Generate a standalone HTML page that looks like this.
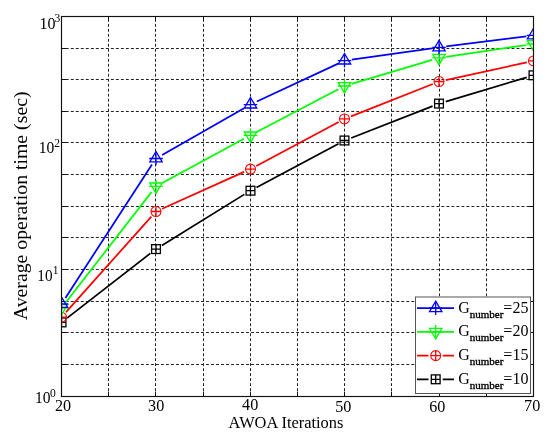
<!DOCTYPE html>
<html><head><meta charset="utf-8"><style>html,body{margin:0;padding:0;background:#fff;}svg{display:block;}</style></head>
<body><svg width="550" height="440" viewBox="0 0 550 440">
<rect x="0" y="0" width="550" height="440" fill="#fff"/>
<path d="M61.5 364.5H533.5 M61.5 332.5H533.5 M61.5 301.5H533.5 M61.5 269.5H533.5 M61.5 237.5H533.5 M61.5 206.5H533.5 M61.5 174.5H533.5 M61.5 142.5H533.5 M61.5 111.5H533.5 M61.5 79.5H533.5 M61.5 48.5H533.5" stroke="#222" stroke-width="1" stroke-dasharray="2.9 2.108" stroke-dashoffset="0.7" fill="none"/>
<path d="M108.5 16.5V396.0 M155.5 16.5V396.0 M203.5 16.5V396.0 M250.5 16.5V396.0 M297.5 16.5V396.0 M344.5 16.5V396.0 M391.5 16.5V396.0 M439.5 16.5V396.0 M486.5 16.5V396.0" stroke="#222" stroke-width="1" stroke-dasharray="2.9 2.09" stroke-dashoffset="2.6" fill="none"/>
<path d="M61.5 396.5h4.9M533.5 396.5h-4.9M61.5 364.5h4.9M533.5 364.5h-4.9M61.5 332.5h4.9M533.5 332.5h-4.9M61.5 301.5h4.9M533.5 301.5h-4.9M61.5 269.5h4.9M533.5 269.5h-4.9M61.5 237.5h4.9M533.5 237.5h-4.9M61.5 206.5h4.9M533.5 206.5h-4.9M61.5 174.5h4.9M533.5 174.5h-4.9M61.5 142.5h4.9M533.5 142.5h-4.9M61.5 111.5h4.9M533.5 111.5h-4.9M61.5 79.5h4.9M533.5 79.5h-4.9M61.5 48.5h4.9M533.5 48.5h-4.9M61.5 16.5h4.9M533.5 16.5h-4.9M61.5 396.5v-4.9M61.5 16.5v4.9M108.5 396.5v-4.9M108.5 16.5v4.9M155.5 396.5v-4.9M155.5 16.5v4.9M203.5 396.5v-4.9M203.5 16.5v4.9M250.5 396.5v-4.9M250.5 16.5v4.9M297.5 396.5v-4.9M297.5 16.5v4.9M344.5 396.5v-4.9M344.5 16.5v4.9M391.5 396.5v-4.9M391.5 16.5v4.9M439.5 396.5v-4.9M439.5 16.5v4.9M486.5 396.5v-4.9M486.5 16.5v4.9M533.5 396.5v-4.9M533.5 16.5v4.9" stroke="#111" stroke-width="1" fill="none"/>
<defs><clipPath id="c"><rect x="61" y="16" width="473" height="380.5"/></clipPath></defs>
<g clip-path="url(#c)">
<path d="M67.03 318.11L150.37 253.39M161.85 245.42L244.35 194.38M256.48 187.41L338.52 143.79M351.22 137.95L432.58 106.15M445.81 101.59L526.79 77.31" stroke="#000000" stroke-width="1.75" fill="none" stroke-linecap="butt"/>
<rect x="57.1" y="318.0" width="8.8" height="8.8" fill="none" stroke="#000000" stroke-width="1.3"/><path d="M57.1 322.4H65.9M61.5 318.0V326.79999999999995" stroke="#000000" stroke-width="1.3" fill="none"/>
<rect x="151.6" y="244.7" width="8.8" height="8.8" fill="none" stroke="#000000" stroke-width="1.3"/><path d="M151.6 249.1H160.4M156.0 244.7V253.5" stroke="#000000" stroke-width="1.3" fill="none"/>
<rect x="246.1" y="186.29999999999998" width="8.8" height="8.8" fill="none" stroke="#000000" stroke-width="1.3"/><path d="M246.1 190.7H254.9M250.5 186.29999999999998V195.1" stroke="#000000" stroke-width="1.3" fill="none"/>
<rect x="340.1" y="136.1" width="8.8" height="8.8" fill="none" stroke="#000000" stroke-width="1.3"/><path d="M340.1 140.5H348.9M344.5 136.1V144.9" stroke="#000000" stroke-width="1.3" fill="none"/>
<rect x="434.6" y="99.19999999999999" width="8.8" height="8.8" fill="none" stroke="#000000" stroke-width="1.3"/><path d="M434.6 103.6H443.4M439.0 99.19999999999999V108.0" stroke="#000000" stroke-width="1.3" fill="none"/>
<rect x="529.1" y="70.89999999999999" width="8.8" height="8.8" fill="none" stroke="#000000" stroke-width="1.3"/><path d="M529.1 75.3H537.9M533.5 70.89999999999999V79.7" stroke="#000000" stroke-width="1.3" fill="none"/>
<path d="M66.03 312.13L151.37 216.57M162.10 208.71L244.10 171.89M256.30 165.91L338.70 122.09M351.02 116.40L432.78 84.00M445.74 80.05L526.86 62.35" stroke="#ff0000" stroke-width="1.75" fill="none" stroke-linecap="butt"/>
<circle cx="61.5" cy="317.2" r="5.0" fill="none" stroke="#ff0000" stroke-width="1.05"/><path d="M56.5 317.2H66.5M61.5 312.2V322.2" stroke="#ff0000" stroke-width="1.3" fill="none"/>
<circle cx="156.0" cy="211.5" r="5.0" fill="none" stroke="#ff0000" stroke-width="1.05"/><path d="M151.0 211.5H161.0M156.0 206.5V216.5" stroke="#ff0000" stroke-width="1.3" fill="none"/>
<circle cx="250.5" cy="169.1" r="5.0" fill="none" stroke="#ff0000" stroke-width="1.05"/><path d="M245.5 169.1H255.5M250.5 164.1V174.1" stroke="#ff0000" stroke-width="1.3" fill="none"/>
<circle cx="344.5" cy="118.9" r="5.0" fill="none" stroke="#ff0000" stroke-width="1.05"/><path d="M339.5 118.9H349.5M344.5 113.9V123.9" stroke="#ff0000" stroke-width="1.3" fill="none"/>
<circle cx="439.0" cy="81.5" r="5.0" fill="none" stroke="#ff0000" stroke-width="1.05"/><path d="M434.0 81.5H444.0M439.0 76.5V86.5" stroke="#ff0000" stroke-width="1.3" fill="none"/>
<circle cx="533.5" cy="60.9" r="5.0" fill="none" stroke="#ff0000" stroke-width="1.05"/><path d="M528.5 60.9H538.5M533.5 55.9V65.9" stroke="#ff0000" stroke-width="1.3" fill="none"/>
<path d="M65.92 302.31L151.48 192.09M162.23 182.98L243.97 138.82M256.68 132.06L338.32 89.34M351.60 83.94L432.20 59.86M446.22 56.76L526.38 45.04" stroke="#00ff00" stroke-width="1.75" fill="none" stroke-linecap="butt"/>
<path d="M61.5 315.0L67.7 304.6L55.3 304.6Z" fill="none" stroke="#00ff00" stroke-width="1.3"/><path d="M54.7 308.0H68.3M61.5 301.2V314.8" stroke="#00ff00" stroke-width="1.3" fill="none"/>
<path d="M156.0 193.4L162.2 183.0L149.8 183.0Z" fill="none" stroke="#00ff00" stroke-width="1.3"/><path d="M149.2 186.4H162.8M156.0 179.6V193.20000000000002" stroke="#00ff00" stroke-width="1.3" fill="none"/>
<path d="M250.5 142.4L256.7 132.0L244.3 132.0Z" fill="none" stroke="#00ff00" stroke-width="1.3"/><path d="M243.7 135.4H257.3M250.5 128.6V142.20000000000002" stroke="#00ff00" stroke-width="1.3" fill="none"/>
<path d="M344.5 93.0L350.7 82.6L338.3 82.6Z" fill="none" stroke="#00ff00" stroke-width="1.3"/><path d="M337.7 86.0H351.3M344.5 79.2V92.8" stroke="#00ff00" stroke-width="1.3" fill="none"/>
<path d="M439.0 64.8L445.2 54.4L432.8 54.4Z" fill="none" stroke="#00ff00" stroke-width="1.3"/><path d="M432.2 57.8H445.8M439.0 51.0V64.6" stroke="#00ff00" stroke-width="1.3" fill="none"/>
<path d="M533.5 51.0L539.7 40.6L527.3 40.6Z" fill="none" stroke="#00ff00" stroke-width="1.3"/><path d="M526.7 44.0H540.3M533.5 37.2V50.8" stroke="#00ff00" stroke-width="1.3" fill="none"/>
<path d="M65.42 297.96L151.98 164.54M162.15 154.93L244.05 108.17M256.83 101.56L338.17 63.64M351.83 59.60L431.97 48.40M446.24 46.49L526.36 36.31" stroke="#0000ff" stroke-width="1.75" fill="none" stroke-linecap="butt"/>
<path d="M61.5 297.0L67.7 307.4L55.3 307.4Z" fill="none" stroke="#0000ff" stroke-width="1.3"/><path d="M54.7 304.0H68.3M61.5 297.2V310.8" stroke="#0000ff" stroke-width="1.3" fill="none"/>
<path d="M156.0 151.5L162.2 161.9L149.8 161.9Z" fill="none" stroke="#0000ff" stroke-width="1.3"/><path d="M149.2 158.5H162.8M156.0 151.7V165.3" stroke="#0000ff" stroke-width="1.3" fill="none"/>
<path d="M250.5 97.6L256.7 108.0L244.3 108.0Z" fill="none" stroke="#0000ff" stroke-width="1.3"/><path d="M243.7 104.6H257.3M250.5 97.8V111.39999999999999" stroke="#0000ff" stroke-width="1.3" fill="none"/>
<path d="M344.5 53.6L350.7 64.0L338.3 64.0Z" fill="none" stroke="#0000ff" stroke-width="1.3"/><path d="M337.7 60.6H351.3M344.5 53.800000000000004V67.4" stroke="#0000ff" stroke-width="1.3" fill="none"/>
<path d="M439.0 40.4L445.2 50.8L432.8 50.8Z" fill="none" stroke="#0000ff" stroke-width="1.3"/><path d="M432.2 47.4H445.8M439.0 40.6V54.199999999999996" stroke="#0000ff" stroke-width="1.3" fill="none"/>
<path d="M533.5 28.4L539.7 38.8L527.3 38.8Z" fill="none" stroke="#0000ff" stroke-width="1.3"/><path d="M526.7 35.4H540.3M533.5 28.599999999999998V42.199999999999996" stroke="#0000ff" stroke-width="1.3" fill="none"/>
</g>
<rect x="61.5" y="16.5" width="472.0" height="380.0" fill="none" stroke="#111" stroke-width="1.15"/>
<g font-family="Liberation Serif, Times New Roman, serif" fill="#000">
<text transform="translate(35.03 402.5) scale(0.914 1)" font-size="17">10</text>
<text x="49.90" y="396.5" font-size="11.5">0</text>
<text transform="translate(37.36 280.6) scale(0.894 1)" font-size="17">10</text>
<text x="52.80" y="274.0" font-size="11.5">1</text>
<text transform="translate(38.72 153.4) scale(0.917 1)" font-size="17">10</text>
<text x="54.20" y="146.8" font-size="11.5">2</text>
<text transform="translate(39.39 28.9) scale(0.941 1)" font-size="17">10</text>
<text x="54.50" y="22.3" font-size="11.5">3</text>
<text transform="translate(62.95 411.4) scale(0.95 1)" font-size="17" text-anchor="middle">20</text>
<text transform="translate(156.15 411.4) scale(0.95 1)" font-size="17" text-anchor="middle">30</text>
<text transform="translate(250.15 410.3) scale(0.95 1)" font-size="17" text-anchor="middle">40</text>
<text transform="translate(343.35 411.8) scale(0.95 1)" font-size="17" text-anchor="middle">50</text>
<text transform="translate(437.25 412.2) scale(0.95 1)" font-size="17" text-anchor="middle">60</text>
<text transform="translate(532.15 411.1) scale(0.95 1)" font-size="17" text-anchor="middle">70</text>
<text x="286" y="428.3" font-size="16.4" text-anchor="middle">AWOA Iterations</text>
<text transform="translate(27.3 205.8) rotate(-90)" font-size="19.8" text-anchor="middle">Average operation time (sec)</text>
</g>
<rect x="415.5" y="297" width="115" height="96.5" fill="#fff" stroke="#555" stroke-width="1"/>
<path d="M417 308.2H454" stroke="#0000ff" stroke-width="1.75"/>
<path d="M435.7 301.2L441.9 311.59999999999997L429.5 311.59999999999997Z" fill="none" stroke="#0000ff" stroke-width="1.3"/><path d="M428.9 308.2H442.5M435.7 301.4V315.0" stroke="#0000ff" stroke-width="1.3" fill="none"/>
<text font-family="Liberation Serif, Times New Roman, serif" font-size="16" x="458.2" y="312.8">G<tspan font-size="11" dy="4.7" stroke="#000" stroke-width="0.35">number</tspan><tspan dy="-4.7">=25</tspan></text>
<path d="M417 331.8H454" stroke="#00ff00" stroke-width="1.75"/>
<path d="M435.7 338.8L441.9 328.40000000000003L429.5 328.40000000000003Z" fill="none" stroke="#00ff00" stroke-width="1.3"/><path d="M428.9 331.8H442.5M435.7 325.0V338.6" stroke="#00ff00" stroke-width="1.3" fill="none"/>
<text font-family="Liberation Serif, Times New Roman, serif" font-size="16" x="458.2" y="336.4">G<tspan font-size="11" dy="4.7" stroke="#000" stroke-width="0.35">number</tspan><tspan dy="-4.7">=20</tspan></text>
<path d="M417 355.6H428.5M442.7 355.6H454" stroke="#ff0000" stroke-width="1.75"/>
<circle cx="435.7" cy="355.6" r="5.0" fill="none" stroke="#ff0000" stroke-width="1.05"/><path d="M430.7 355.6H440.7M435.7 350.6V360.6" stroke="#ff0000" stroke-width="1.3" fill="none"/>
<text font-family="Liberation Serif, Times New Roman, serif" font-size="16" x="458.2" y="360.2">G<tspan font-size="11" dy="4.7" stroke="#000" stroke-width="0.35">number</tspan><tspan dy="-4.7">=15</tspan></text>
<path d="M417 379.3H428.5M442.7 379.3H454" stroke="#000000" stroke-width="1.75"/>
<rect x="431.3" y="374.90000000000003" width="8.8" height="8.8" fill="none" stroke="#000000" stroke-width="1.3"/><path d="M431.3 379.3H440.09999999999997M435.7 374.90000000000003V383.7" stroke="#000000" stroke-width="1.3" fill="none"/>
<text font-family="Liberation Serif, Times New Roman, serif" font-size="16" x="458.2" y="383.9">G<tspan font-size="11" dy="4.7" stroke="#000" stroke-width="0.35">number</tspan><tspan dy="-4.7">=10</tspan></text>
</svg></body></html>
